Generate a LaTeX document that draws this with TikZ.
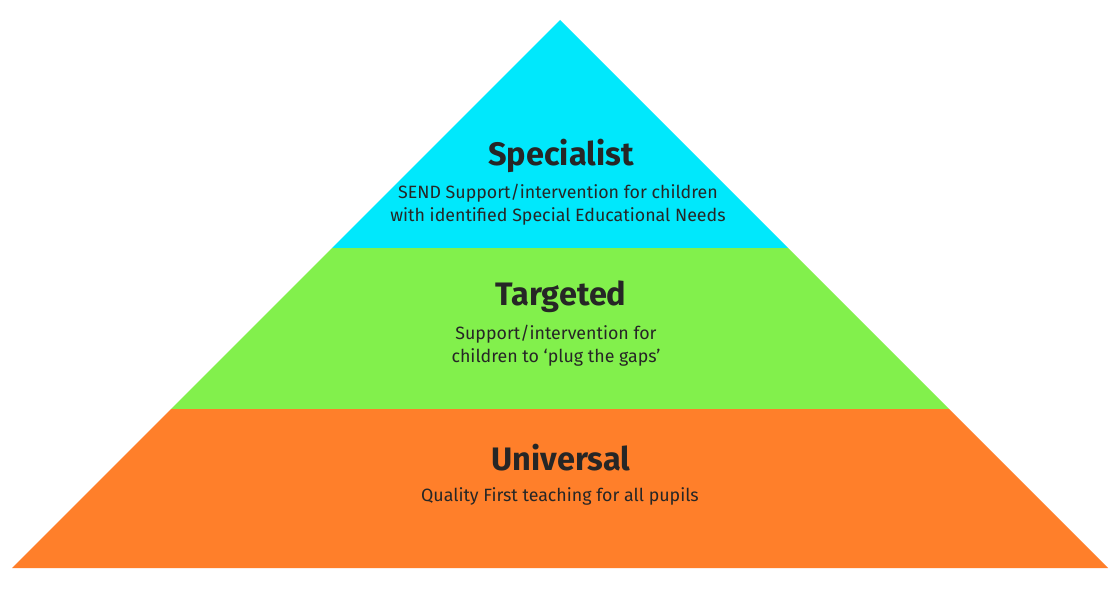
\documentclass[tikz,border=0pt]{standalone}
\usepackage{fontspec}
\setmainfont{Fira Sans}
\definecolor{cy}{HTML}{00E8FC}
\definecolor{gr}{HTML}{82F04C}
\definecolor{orr}{HTML}{FF7F2A}
\begin{document}
\begin{tikzpicture}[x=1pt,y=-1pt,
 ttl/.style={font=\fontsize{32.5}{36}\selectfont\bfseries,text=black!85},
 txt/.style={font=\fontsize{17.8}{23}\selectfont,text=black!85,align=center}]
\useasboundingbox (0,0) rectangle (1120,594);
\fill[white] (0,0) rectangle (1120,594);
\fill[cy] (560,20) -- (332,248) -- (788,248) -- cycle;
\fill[gr] (332,248) -- (788,248) -- (949,409) -- (171,409) -- cycle;
\fill[orr] (171,409) -- (949,409) -- (1108,568) -- (12,568) -- cycle;
\node[ttl] (s) at (561,156) {Specialist};
\node[txt] (st) at (558,205) {SEND Support/intervention for children\\with identified Special Educational Needs};
\node[ttl] (t) at (561,297) {Targeted};
\node[txt] (tt) at (556,346) {Support/intervention for\\children to ‘plug the gaps’};
\node[ttl] (u) at (561,458) {Universal};
\node[txt] (ut) at (560,496) {Quality First teaching for all pupils};
\end{tikzpicture}
\end{document}
